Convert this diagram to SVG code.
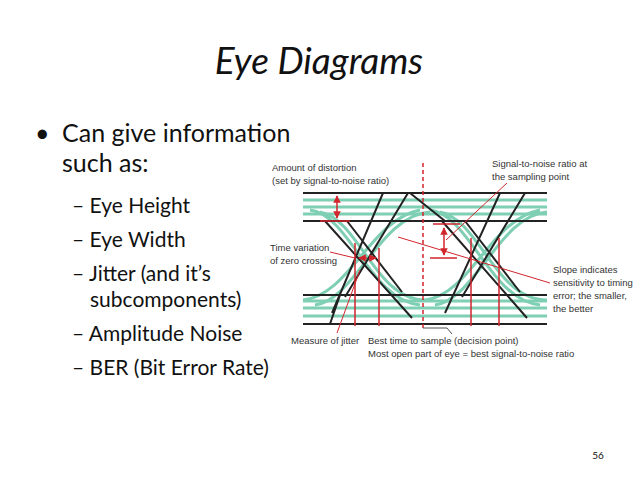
<svg xmlns="http://www.w3.org/2000/svg" width="638" height="479" viewBox="0 0 638 479">
<style>
.t{font-family:Lato,"Open Sans","Liberation Sans",sans-serif;fill:#111}
.s{font-family:"Liberation Sans",Arial,sans-serif;font-size:9.5px;fill:#333}
.g{fill:none;stroke:#7fcfb4;stroke-width:3}
.k{stroke:#222;stroke-width:2}
.r{stroke:#d0262c;stroke-width:1.5;fill:none}
.rt{stroke:#d0262c;stroke-width:1;fill:none}
</style>
<defs><marker id="a" viewBox="0 0 10 10" refX="9" refY="5" markerWidth="5" markerHeight="5" orient="auto-start-reverse"><path d="M0,0L10,5L0,10z" fill="#d0262c"/></marker></defs>
<rect width="638" height="479" fill="#fff"/>
<text class="t" x="319" y="74" font-size="37" font-style="italic" text-anchor="middle">Eye Diagrams</text>
<g class="t" font-size="25">
<text x="35" y="142">•</text>
<text x="62" y="142">Can give information</text>
<text x="62" y="172">such as:</text>
</g>
<g class="t" font-size="21">
<text x="72" y="213">– Eye Height</text>
<text x="72" y="247">– Eye Width</text>
<text x="72" y="281">– Jitter (and it’s</text>
<text x="90" y="307">subcomponents)</text>
<text x="72" y="341">– Amplitude Noise</text>
<text x="72" y="375">– BER (Bit Error Rate)</text>
</g>
<text class="t" x="598" y="459" font-size="10" fill="#555" text-anchor="middle">56</text>
<g id="eye">
<path class="g" d="M303,200H547M303,207H547M303,214H547M303,301H547M303,308H547M303,316H547"/>
<path class="g" d="M310,210C350,215 370,300 420,305M320,212C360,220 375,300 425,300M303,300C350,295 370,220 420,210M315,305C355,300 380,215 430,212"/>
<path class="g" d="M430,210C470,215 490,300 540,305M440,212C480,220 495,300 547,300M425,300C470,295 490,220 540,210M435,305C475,300 500,215 547,212"/>
<path class="k" d="M303,193H547M303,221H547M303,295H547M303,324H547"/>
<path class="k" d="M325,221L412,318M347,221L402,292M383,193L332,313M408,193L345,297M442,221L527,318M465,221L520,292M500,193L445,313M525,193L462,297M410,193L445,221M340,295L330,324"/>
</g>
<g id="connectors">
<path class="r" d="M423,163V330" stroke-dasharray="4,3"/>
<path class="r" d="M337,196V218" marker-start="url(#a)" marker-end="url(#a)"/>
<path class="r" d="M320,221H350M433,224H460M430,258H457"/>
<path class="r" d="M444,228V255" marker-start="url(#a)" marker-end="url(#a)"/>
<path class="r" d="M359,258H376" stroke-dasharray="3,2" marker-start="url(#a)" marker-end="url(#a)"/>
<path class="r" d="M355,243V326M379,248V326M471,238V326M499,238V326"/>
<path class="rt" d="M507,183L446,240M550,283L398,237M337,333L360,270M330,252L355,258"/>
<path stroke="#555" fill="none" d="M423,328H447L452,334"/>
</g>
<g class="s">
<text x="272" y="171">Amount of distortion</text>
<text x="272" y="184">(set by signal-to-noise ratio)</text>
<text x="492" y="167">Signal-to-noise ratio at</text>
<text x="492" y="180">the sampling point</text>
<text x="270" y="251">Time variation</text>
<text x="270" y="264">of zero crossing</text>
<text x="553" y="273">Slope indicates</text>
<text x="553" y="286">sensitivity to timing</text>
<text x="553" y="299">error; the smaller,</text>
<text x="553" y="312">the better</text>
<text x="291" y="344">Measure of jitter</text>
<text x="368" y="344">Best time to sample (decision point)</text>
<text x="368" y="357">Most open part of eye = best signal-to-noise ratio</text>
</g>
</svg>
